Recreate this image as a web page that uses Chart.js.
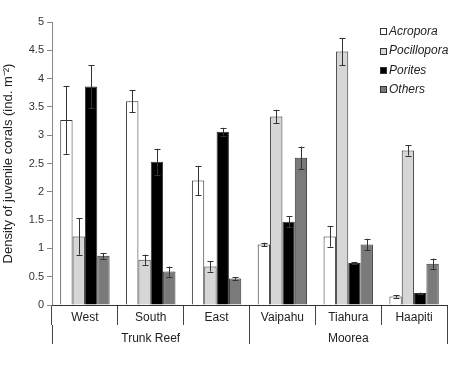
<!DOCTYPE html>
<html>
<head>
<meta charset="utf-8">
<script src="https://cdn.jsdelivr.net/npm/chart.js@4.4.1/dist/chart.umd.min.js"></script>
<style>
  html, body { margin: 0; padding: 0; background: #fff; }
  #wrap { position: relative; width: 474px; height: 383px; }
  #legend { position: absolute; left: 380px; top: 22px; font-family: "Liberation Sans", Arial, sans-serif; font-size: 12px; font-style: italic; color: #222; }
  #legend .row { height: 19.4px; line-height: 19.4px; display: flex; align-items: center; white-space: nowrap; }
  #legend .sw { width: 5px; height: 5px; border: 1px solid #333; margin-right: 2px; box-sizing: content-box; }
</style>
</head>
<body>
<div id="wrap">
  <canvas id="c" width="474" height="383"></canvas>
  <div id="legend"></div>
</div>
<script>
// ---- data ----
const sites = ['West', 'South', 'East', 'Vaipahu', 'Tiahura', 'Haapiti'];
const regions = ['Trunk Reef', 'Moorea'];
const seriesNames = ['Acropora', 'Pocillopora', 'Porites', 'Others'];

const acropora    = [3.27, 3.60, 2.20, 1.07, 1.21, 0.15];
const pocillopora = [1.21, 0.80, 0.68, 3.33, 4.48, 2.73];
const porites     = [3.86, 2.53, 3.06, 1.47, 0.74, 0.21];
const others      = [0.87, 0.59, 0.47, 2.60, 1.07, 0.73];

const acroporaErr    = [0.60, 0.19, 0.26, 0.03, 0.18, 0.02];
const pocilloporaErr = [0.32, 0.09, 0.09, 0.12, 0.24, 0.09];
const poritesErr     = [0.38, 0.23, 0.07, 0.10, 0.02, 0.01];
const othersErr      = [0.05, 0.09, 0.02, 0.20, 0.10, 0.09];

const yTicks = [0, 0.5, 1, 1.5, 2, 2.5, 3, 3.5, 4, 4.5, 5];
const yTitle = 'Density of juvenile corals (ind. m\u207B\u00B2)';

// ---- styles ----
const fills = ['#ffffff', '#d6d6d6', '#000000', '#7a7a7a'];
const values = [acropora, pocillopora, porites, others];
const errors = [acroporaErr, pocilloporaErr, poritesErr, othersErr];
const FONT = '"Liberation Sans", Arial, sans-serif';

const datasets = seriesNames.map((n, i) => ({
  label: n,
  data: values[i],
  errors: errors[i],
  backgroundColor: fills[i],
  borderColor: '#333',
  borderWidth: 1,
  borderSkipped: 'start',
  categoryPercentage: 0.75,
  barPercentage: 1.0
}));

const errorBars = {
  id: 'errorBars',
  afterDatasetsDraw(chart) {
    const ctx = chart.ctx;
    const y = chart.scales.y;
    ctx.save();
    ctx.strokeStyle = '#333';
    ctx.lineWidth = 1;
    chart.data.datasets.forEach((ds, di) => {
      const meta = chart.getDatasetMeta(di);
      meta.data.forEach((bar, i) => {
        const v = ds.data[i], e = ds.errors[i];
        const x = Math.round(bar.x) + 0.5;
        const yt = y.getPixelForValue(v + e);
        const yb = y.getPixelForValue(v - e);
        ctx.beginPath();
        ctx.moveTo(x, yt); ctx.lineTo(x, yb);
        ctx.moveTo(x - 3, Math.round(yt) + 0.5); ctx.lineTo(x + 3, Math.round(yt) + 0.5);
        ctx.moveTo(x - 3, Math.round(yb) + 0.5); ctx.lineTo(x + 3, Math.round(yb) + 0.5);
        ctx.stroke();
      });
    });
    ctx.restore();
  }
};

new Chart(document.getElementById('c'), {
  type: 'bar',
  data: { labels: sites, datasets },
  plugins: [errorBars],
  options: {
    responsive: false,
    animation: false,
    layout: { padding: { left: 0, right: 27, top: 22, bottom: 39 } },
    plugins: { legend: { display: false }, tooltip: { enabled: false } },
    scales: {
      y: {
        min: 0, max: 5,
        afterBuildTicks(s) { s.ticks = yTicks.map(v => ({ value: v })); },
        afterFit(s) { s.width = 52; },
        ticks: { font: { family: FONT, size: 11 }, color: '#333', padding: 3,
                 callback: (v) => String(v) },
        grid: { drawOnChartArea: false, drawTicks: true, tickLength: 5, color: '#888' },
        border: { display: true, color: '#888', width: 1 },
        title: { display: true, text: yTitle, font: { family: FONT, size: 13 }, color: '#222', padding: { top: 1, bottom: 0 } }
      },
      x: {
        type: 'category',
        position: 'bottom',
        weight: 0,
        offset: true,
        afterFit(s) { s.height = 20; },
        ticks: { font: { family: FONT, size: 12 }, color: '#222', padding: -15, maxRotation: 0, autoSkip: false },
        grid: { offset: true, drawOnChartArea: false, drawTicks: true, tickLength: 20, color: '#444' },
        border: { display: true, color: '#333', width: 1 }
      },
      x2: {
        type: 'category',
        labels: regions,
        position: 'bottom',
        weight: 1,
        offset: true,
        afterFit(s) { s.height = 19; },
        ticks: { font: { family: FONT, size: 12 }, color: '#222', padding: -13, maxRotation: 0, autoSkip: false },
        grid: { offset: true, drawOnChartArea: false, drawTicks: true, tickLength: 19, color: '#444' },
        border: { display: false }
      }
    }
  }
});

// HTML legend built from the series arrays
const lg = document.getElementById('legend');
seriesNames.forEach((n, i) => {
  const row = document.createElement('div');
  row.className = 'row';
  const sw = document.createElement('span');
  sw.className = 'sw';
  sw.style.background = fills[i];
  const t = document.createElement('span');
  t.textContent = n;
  row.appendChild(sw); row.appendChild(t);
  lg.appendChild(row);
});
</script>
</body>
</html>
